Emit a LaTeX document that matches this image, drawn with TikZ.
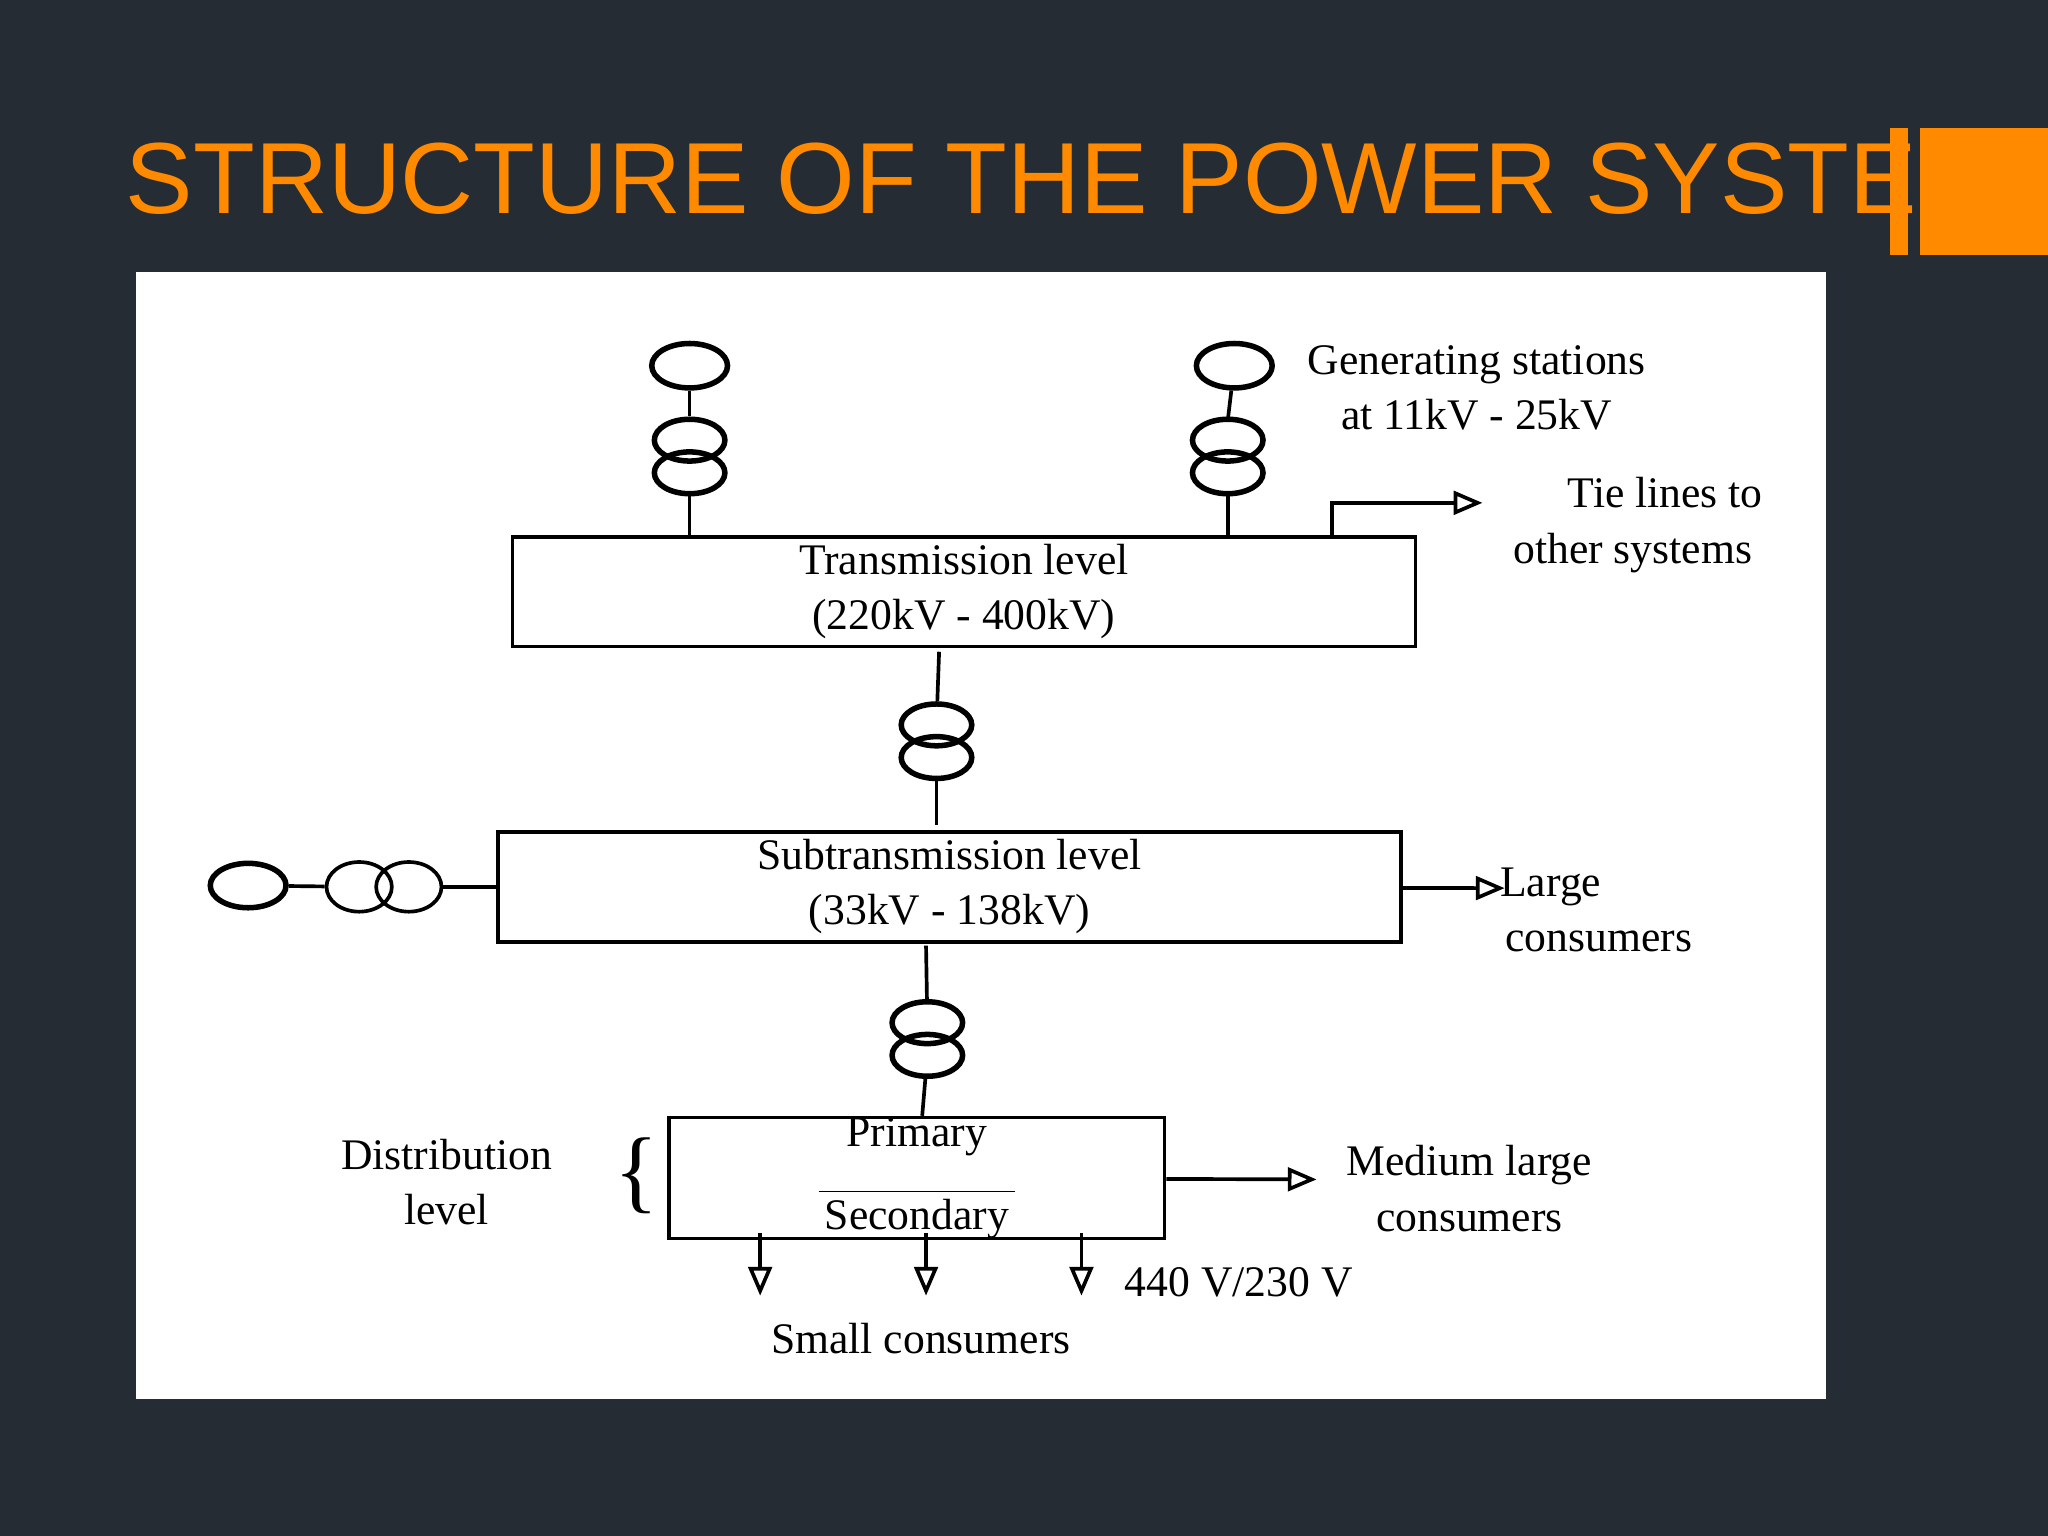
\documentclass[tikz,border=0pt]{standalone}
\usepackage{fontspec}
\setmainfont{Liberation Serif}
\newfontfamily\titlefont{Liberation Sans}
\usetikzlibrary{arrows.meta,shapes.geometric}
\definecolor{slide}{HTML}{262C33}
\definecolor{accent}{HTML}{FF8A00}
\tikzset{
  level/.style={draw, thick, minimum width=#1, minimum height=0.84cm, align=center, inner sep=0pt, font=\fontsize{9.5}{12}\selectfont},
  gen/.style={draw, very thick, ellipse, minimum width=0.58cm, minimum height=0.34cm, inner sep=0pt},
  coil/.style={draw, very thick, ellipse, minimum width=0.54cm, minimum height=0.32cm, inner sep=0pt},
  coilh/.style={draw, thick, ellipse, minimum width=0.5cm, minimum height=0.38cm, inner sep=0pt},
  feed/.style={-{Triangle[open, length=2.2mm, width=1.8mm]}, thick},
  lbl/.style={align=center, font=\fontsize{9.5}{12}\selectfont},
}
\begin{document}
\begin{tikzpicture}[x=0.01cm, y=-0.01cm, thick]
  \useasboundingbox (0,0) rectangle (1568,1176);
  \fill[slide] (0,0) rectangle (1568,1176);
  \node[anchor=west, text=accent, font=\titlefont\fontsize{22}{26}\selectfont, inner sep=0pt] (title) at (95,137) {STRUCTURE OF THE POWER SYSTEM};
  \fill[accent] (1447,98) rectangle (1461,195);
  \fill[accent] (1470,98) rectangle (1568,195);
  \fill[white] (104,208) rectangle (1398,1071);
  % levels
  \node[level=6.91cm] (trans) at (738,453) {Transmission level\\(220kV - 400kV)};
  \node[level=6.91cm] (sub) at (727,679) {Subtransmission level\\(33kV - 138kV)};
  \node[level=3.79cm, align=center] (dist) at (702,902) {Primary\\[-2pt]\rule{1.5cm}{0.4pt}\\[-4pt]Secondary};
  % generators and transformers
  \node[gen] (g1) at (528,280) {};
  \node[coil] (t1a) at (528,337) {};
  \node[coil] (t1b) at (528,362) {};
  \draw (g1) -- (t1a);
  \draw (t1b) -- (528,411);
  \node[gen] (g2) at (945,280) {};
  \node[coil] (t2a) at (940,337) {};
  \node[coil] (t2b) at (940,362) {};
  \draw (g2) -- (940,322);
  \draw (t2b) -- (940,411);
  \node[coil] (t3a) at (717,555) {};
  \node[coil] (t3b) at (717,580) {};
  \draw (719,499) -- (t3a);
  \draw (t3b) -- (717,632);
  \node[coil] (t4a) at (710,783) {};
  \node[coil] (t4b) at (710,808) {};
  \draw (709,724) -- (t4a);
  \draw (t4b) -- (dist);
  \node[gen] (g3) at (190,678) {};
  \node[coilh] (t5a) at (275,679) {};
  \node[coilh] (t5b) at (313,679) {};
  \draw (g3) -- (t5a);
  \draw (t5b) -- (sub);
  % feeders
  \coordinate (tie) at (1135,385);
  \draw[feed] (1020,411) |- (tie);
  \coordinate (large) at (1152,680);
  \draw[feed] (sub) -- (large);
  \coordinate (medium) at (1008,903);
  \draw[feed] (dist) -- (medium);
  \foreach \x/\n in {582/a, 709/b, 828/c} {
    \coordinate (s\n) at (\x,992);
    \draw[feed] (\x,944) -- (s\n);
  }
  % labels
  \node[lbl, anchor=west] (genlbl) at (988,297) {Generating stations\\at 11kV - 25kV};
  \node[lbl] (tielbl) at (1250,402) {\hspace*{1.5em}Tie lines to\\other systems};
  \node[lbl] (largelbl) at (1224,697) {Large\hspace*{2.2em}\\consumers};
  \node[lbl] (mediumlbl) at (1125,910) {Medium large\\consumers};
  \node[lbl, anchor=west] (voltlbl) at (848,982) {440 V/230 V};
  \node[lbl] (smalllbl) at (705,1025) {Small consumers};
  \node[lbl] (distlbl) at (342,905) {Distribution\\level};
  \node[font=\fontsize{20}{20}\selectfont, inner sep=0pt] (brace) at (487,900) {\{};
\end{tikzpicture}
\end{document}
